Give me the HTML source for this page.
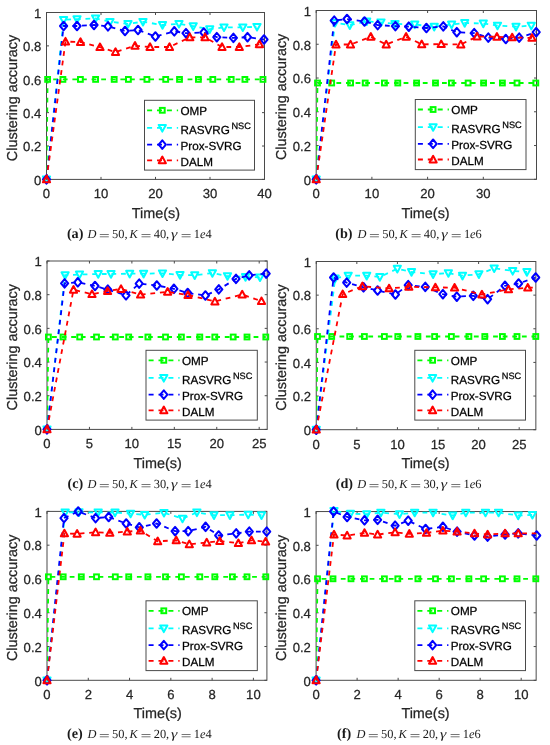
<!DOCTYPE html>
<html><head><meta charset="utf-8"><style>
html,body{margin:0;padding:0;background:#fff;overflow:hidden;width:550px;height:745px;}
svg{display:block;will-change:transform;}
text{text-rendering:geometricPrecision;}
.tk{font-family:"Liberation Sans",sans-serif;font-size:13.1px;fill:#262626;stroke:#262626;stroke-width:0.25px;}
.lb{font-family:"Liberation Sans",sans-serif;font-size:14.4px;fill:#262626;stroke:#262626;stroke-width:0.25px;}
.lg{font-family:"Liberation Sans",sans-serif;font-size:11.7px;fill:#000;stroke:#000;stroke-width:0.25px;}
.cp{font-family:"Liberation Serif",serif;font-size:12.4px;fill:#1a1a1a;}
</style></head><body>
<svg width="550" height="745" viewBox="0 0 550 745">
<defs><clipPath id="ca"><rect x="46.5" y="11.5" width="218" height="167.9"/></clipPath><clipPath id="cb"><rect x="316.2" y="9.5" width="220.3" height="169.8"/></clipPath><clipPath id="cc"><rect x="47" y="260" width="220.2" height="169.4"/></clipPath><clipPath id="cd"><rect x="316.25" y="260.5" width="219.6" height="169.2"/></clipPath><clipPath id="ce"><rect x="47" y="510.4" width="219.9" height="169.9"/></clipPath><clipPath id="cf"><rect x="316.1" y="510.55" width="220.05" height="169.75"/></clipPath></defs>
<g><rect x="46.5" y="12.5" width="218" height="166.9" fill="none" stroke="#4a4a4a" stroke-width="1"/>
<path d="M46.5,179.4h2.5M264.5,179.4h-2.5" stroke="#4a4a4a" stroke-width="1"/>
<text x="41.3" y="184.7" text-anchor="end" class="tk">0</text>
<path d="M46.5,146.02h2.5M264.5,146.02h-2.5" stroke="#4a4a4a" stroke-width="1"/>
<text x="41.3" y="151.32" text-anchor="end" class="tk">0.2</text>
<path d="M46.5,112.64h2.5M264.5,112.64h-2.5" stroke="#4a4a4a" stroke-width="1"/>
<text x="41.3" y="117.94" text-anchor="end" class="tk">0.4</text>
<path d="M46.5,79.26h2.5M264.5,79.26h-2.5" stroke="#4a4a4a" stroke-width="1"/>
<text x="41.3" y="84.56" text-anchor="end" class="tk">0.6</text>
<path d="M46.5,45.88h2.5M264.5,45.88h-2.5" stroke="#4a4a4a" stroke-width="1"/>
<text x="41.3" y="51.18" text-anchor="end" class="tk">0.8</text>
<path d="M46.5,12.5h2.5M264.5,12.5h-2.5" stroke="#4a4a4a" stroke-width="1"/>
<text x="41.3" y="17.8" text-anchor="end" class="tk">1</text>
<path d="M46.5,179.4v-2.5M46.5,12.5v2.5" stroke="#4a4a4a" stroke-width="1"/>
<text x="46.5" y="198.4" text-anchor="middle" class="tk">0</text>
<path d="M101,179.4v-2.5M101,12.5v2.5" stroke="#4a4a4a" stroke-width="1"/>
<text x="101" y="198.4" text-anchor="middle" class="tk">10</text>
<path d="M155.5,179.4v-2.5M155.5,12.5v2.5" stroke="#4a4a4a" stroke-width="1"/>
<text x="155.5" y="198.4" text-anchor="middle" class="tk">20</text>
<path d="M210,179.4v-2.5M210,12.5v2.5" stroke="#4a4a4a" stroke-width="1"/>
<text x="210" y="198.4" text-anchor="middle" class="tk">30</text>
<path d="M264.5,179.4v-2.5M264.5,12.5v2.5" stroke="#4a4a4a" stroke-width="1"/>
<text x="264.5" y="198.4" text-anchor="middle" class="tk">40</text>
<text transform="translate(16.8,97.95) rotate(-90)" x="0" y="0" text-anchor="middle" class="lb" >Clustering accuracy</text>
<text x="131.8" y="217.8" class="lb">Time(s)</text>
<path d="M46.5,179.4 L47.6,79.4 L62.9,79.4 L80.4,79.4 L95.6,79.4 L114.2,79.4 L128.4,79.4 L146.9,79.4 L165.7,79.4 L179.5,79.4 L198.4,79.4 L212.8,79.4 L231.2,79.4 L244.9,79.4 L263,79.4" fill="none" stroke="#00ff00" stroke-width="1.8" stroke-dasharray="4.8,4.8" clip-path="url(#ca)"/>
<rect x="44.1" y="177" width="4.8" height="4.8" fill="none" stroke="#00ff00" stroke-width="2.0"/>
<rect x="45.2" y="77" width="4.8" height="4.8" fill="none" stroke="#00ff00" stroke-width="2.0"/>
<rect x="60.5" y="77" width="4.8" height="4.8" fill="none" stroke="#00ff00" stroke-width="2.0"/>
<rect x="78" y="77" width="4.8" height="4.8" fill="none" stroke="#00ff00" stroke-width="2.0"/>
<rect x="93.2" y="77" width="4.8" height="4.8" fill="none" stroke="#00ff00" stroke-width="2.0"/>
<rect x="111.8" y="77" width="4.8" height="4.8" fill="none" stroke="#00ff00" stroke-width="2.0"/>
<rect x="126" y="77" width="4.8" height="4.8" fill="none" stroke="#00ff00" stroke-width="2.0"/>
<rect x="144.5" y="77" width="4.8" height="4.8" fill="none" stroke="#00ff00" stroke-width="2.0"/>
<rect x="163.3" y="77" width="4.8" height="4.8" fill="none" stroke="#00ff00" stroke-width="2.0"/>
<rect x="177.1" y="77" width="4.8" height="4.8" fill="none" stroke="#00ff00" stroke-width="2.0"/>
<rect x="196" y="77" width="4.8" height="4.8" fill="none" stroke="#00ff00" stroke-width="2.0"/>
<rect x="210.4" y="77" width="4.8" height="4.8" fill="none" stroke="#00ff00" stroke-width="2.0"/>
<rect x="228.8" y="77" width="4.8" height="4.8" fill="none" stroke="#00ff00" stroke-width="2.0"/>
<rect x="242.5" y="77" width="4.8" height="4.8" fill="none" stroke="#00ff00" stroke-width="2.0"/>
<rect x="260.6" y="77" width="4.8" height="4.8" fill="none" stroke="#00ff00" stroke-width="2.0"/>
<path d="M46.5,179.4 L63.6,19.8 L77,19.2 L95.6,18.4 L110,21.8 L128,23.8 L143,21.8 L162.5,25 L179,23.8 L193.2,26.2 L209.7,29.2 L224,27.3 L242.8,27.3 L257,26.8" fill="none" stroke="#00ffff" stroke-width="1.8" stroke-dasharray="4.8,4.8" clip-path="url(#ca)"/>
<path d="M42.9,176.5L50.1,176.5L46.5,183.1Z" fill="none" stroke="#00ffff" stroke-width="2.0" stroke-linejoin="round"/>
<path d="M60,16.9L67.2,16.9L63.6,23.5Z" fill="none" stroke="#00ffff" stroke-width="2.0" stroke-linejoin="round"/>
<path d="M73.4,16.3L80.6,16.3L77,22.9Z" fill="none" stroke="#00ffff" stroke-width="2.0" stroke-linejoin="round"/>
<path d="M92,15.5L99.2,15.5L95.6,22.1Z" fill="none" stroke="#00ffff" stroke-width="2.0" stroke-linejoin="round"/>
<path d="M106.4,18.9L113.6,18.9L110,25.5Z" fill="none" stroke="#00ffff" stroke-width="2.0" stroke-linejoin="round"/>
<path d="M124.4,20.9L131.6,20.9L128,27.5Z" fill="none" stroke="#00ffff" stroke-width="2.0" stroke-linejoin="round"/>
<path d="M139.4,18.9L146.6,18.9L143,25.5Z" fill="none" stroke="#00ffff" stroke-width="2.0" stroke-linejoin="round"/>
<path d="M158.9,22.1L166.1,22.1L162.5,28.7Z" fill="none" stroke="#00ffff" stroke-width="2.0" stroke-linejoin="round"/>
<path d="M175.4,20.9L182.6,20.9L179,27.5Z" fill="none" stroke="#00ffff" stroke-width="2.0" stroke-linejoin="round"/>
<path d="M189.6,23.3L196.8,23.3L193.2,29.9Z" fill="none" stroke="#00ffff" stroke-width="2.0" stroke-linejoin="round"/>
<path d="M206.1,26.3L213.3,26.3L209.7,32.9Z" fill="none" stroke="#00ffff" stroke-width="2.0" stroke-linejoin="round"/>
<path d="M220.4,24.4L227.6,24.4L224,31Z" fill="none" stroke="#00ffff" stroke-width="2.0" stroke-linejoin="round"/>
<path d="M239.2,24.4L246.4,24.4L242.8,31Z" fill="none" stroke="#00ffff" stroke-width="2.0" stroke-linejoin="round"/>
<path d="M253.4,23.9L260.6,23.9L257,30.5Z" fill="none" stroke="#00ffff" stroke-width="2.0" stroke-linejoin="round"/>
<path d="M46.5,179.4 L63.6,26 L77,26 L94,25 L108,26.4 L125,31 L138,30 L155.4,36.5 L174.3,31.3 L186,33.2 L203.8,32.5 L216.8,37.2 L233.4,37.9 L247.5,37.2 L264,39.5" fill="none" stroke="#0000ff" stroke-width="1.8" stroke-dasharray="4.8,4.8" clip-path="url(#ca)"/>
<path d="M42.9,179.4L46.5,175.1L50.1,179.4L46.5,183.7Z" fill="none" stroke="#0000ff" stroke-width="2.0" stroke-linejoin="round"/>
<path d="M60,26L63.6,21.7L67.2,26L63.6,30.3Z" fill="none" stroke="#0000ff" stroke-width="2.0" stroke-linejoin="round"/>
<path d="M73.4,26L77,21.7L80.6,26L77,30.3Z" fill="none" stroke="#0000ff" stroke-width="2.0" stroke-linejoin="round"/>
<path d="M90.4,25L94,20.7L97.6,25L94,29.3Z" fill="none" stroke="#0000ff" stroke-width="2.0" stroke-linejoin="round"/>
<path d="M104.4,26.4L108,22.1L111.6,26.4L108,30.7Z" fill="none" stroke="#0000ff" stroke-width="2.0" stroke-linejoin="round"/>
<path d="M121.4,31L125,26.7L128.6,31L125,35.3Z" fill="none" stroke="#0000ff" stroke-width="2.0" stroke-linejoin="round"/>
<path d="M134.4,30L138,25.7L141.6,30L138,34.3Z" fill="none" stroke="#0000ff" stroke-width="2.0" stroke-linejoin="round"/>
<path d="M151.8,36.5L155.4,32.2L159,36.5L155.4,40.8Z" fill="none" stroke="#0000ff" stroke-width="2.0" stroke-linejoin="round"/>
<path d="M170.7,31.3L174.3,27L177.9,31.3L174.3,35.6Z" fill="none" stroke="#0000ff" stroke-width="2.0" stroke-linejoin="round"/>
<path d="M182.4,33.2L186,28.9L189.6,33.2L186,37.5Z" fill="none" stroke="#0000ff" stroke-width="2.0" stroke-linejoin="round"/>
<path d="M200.2,32.5L203.8,28.2L207.4,32.5L203.8,36.8Z" fill="none" stroke="#0000ff" stroke-width="2.0" stroke-linejoin="round"/>
<path d="M213.2,37.2L216.8,32.9L220.4,37.2L216.8,41.5Z" fill="none" stroke="#0000ff" stroke-width="2.0" stroke-linejoin="round"/>
<path d="M229.8,37.9L233.4,33.6L237,37.9L233.4,42.2Z" fill="none" stroke="#0000ff" stroke-width="2.0" stroke-linejoin="round"/>
<path d="M243.9,37.2L247.5,32.9L251.1,37.2L247.5,41.5Z" fill="none" stroke="#0000ff" stroke-width="2.0" stroke-linejoin="round"/>
<path d="M260.4,39.5L264,35.2L267.6,39.5L264,43.8Z" fill="none" stroke="#0000ff" stroke-width="2.0" stroke-linejoin="round"/>
<path d="M46.5,179.4 L65.5,41.6 L80.5,42 L100,47.2 L115.5,52 L135,45.8 L150,47 L169.5,47 L189.8,37.3 L205,37.3 L222,47 L239.3,47 L259.4,44.3" fill="none" stroke="#ff0000" stroke-width="1.8" stroke-dasharray="4.8,4.8" clip-path="url(#ca)"/>
<path d="M42.9,182.3L50.1,182.3L46.5,175.7Z" fill="none" stroke="#ff0000" stroke-width="2.0" stroke-linejoin="round"/>
<path d="M61.9,44.5L69.1,44.5L65.5,37.9Z" fill="none" stroke="#ff0000" stroke-width="2.0" stroke-linejoin="round"/>
<path d="M76.9,44.9L84.1,44.9L80.5,38.3Z" fill="none" stroke="#ff0000" stroke-width="2.0" stroke-linejoin="round"/>
<path d="M96.4,50.1L103.6,50.1L100,43.5Z" fill="none" stroke="#ff0000" stroke-width="2.0" stroke-linejoin="round"/>
<path d="M111.9,54.9L119.1,54.9L115.5,48.3Z" fill="none" stroke="#ff0000" stroke-width="2.0" stroke-linejoin="round"/>
<path d="M131.4,48.7L138.6,48.7L135,42.1Z" fill="none" stroke="#ff0000" stroke-width="2.0" stroke-linejoin="round"/>
<path d="M146.4,49.9L153.6,49.9L150,43.3Z" fill="none" stroke="#ff0000" stroke-width="2.0" stroke-linejoin="round"/>
<path d="M165.9,49.9L173.1,49.9L169.5,43.3Z" fill="none" stroke="#ff0000" stroke-width="2.0" stroke-linejoin="round"/>
<path d="M186.2,40.2L193.4,40.2L189.8,33.6Z" fill="none" stroke="#ff0000" stroke-width="2.0" stroke-linejoin="round"/>
<path d="M201.4,40.2L208.6,40.2L205,33.6Z" fill="none" stroke="#ff0000" stroke-width="2.0" stroke-linejoin="round"/>
<path d="M218.4,49.9L225.6,49.9L222,43.3Z" fill="none" stroke="#ff0000" stroke-width="2.0" stroke-linejoin="round"/>
<path d="M235.7,49.9L242.9,49.9L239.3,43.3Z" fill="none" stroke="#ff0000" stroke-width="2.0" stroke-linejoin="round"/>
<path d="M255.8,47.2L263,47.2L259.4,40.6Z" fill="none" stroke="#ff0000" stroke-width="2.0" stroke-linejoin="round"/>
<rect x="144.5" y="100.3" width="110" height="69.8" fill="#fff" stroke="#4a4a4a" stroke-width="1"/>
<path d="M147.1,110.3H178.1" stroke="#00ff00" stroke-width="1.8" stroke-dasharray="5,4.9"/>
<rect x="159.9" y="107.9" width="4.8" height="4.8" fill="none" stroke="#00ff00" stroke-width="2.0"/>
<text x="180.5" y="114.5" class="lg">OMP</text>
<path d="M147.1,127.9H178.1" stroke="#00ffff" stroke-width="1.8" stroke-dasharray="5,4.9"/>
<path d="M158.7,125L165.9,125L162.3,131.6Z" fill="none" stroke="#00ffff" stroke-width="2.0" stroke-linejoin="round"/>
<text x="180.5" y="133.6" class="lg">RASVRG<tspan font-size="9.2" dy="-4.9" dx="1.6">NSC</tspan></text>
<path d="M147.1,144.6H178.1" stroke="#0000ff" stroke-width="1.8" stroke-dasharray="5,4.9"/>
<path d="M158.7,144.6L162.3,140.3L165.9,144.6L162.3,148.9Z" fill="none" stroke="#0000ff" stroke-width="2.0" stroke-linejoin="round"/>
<text x="180.5" y="149.9" class="lg">Prox-SVRG</text>
<path d="M147.1,160.3H178.1" stroke="#ff0000" stroke-width="1.8" stroke-dasharray="5,4.9"/>
<path d="M158.7,163.2L165.9,163.2L162.3,156.6Z" fill="none" stroke="#ff0000" stroke-width="2.0" stroke-linejoin="round"/>
<text x="180.5" y="165.8" class="lg">DALM</text>
<text x="66.9" y="238.3" class="cp"><tspan font-weight="bold" font-size="14.2">(a)</tspan></text>
<text x="87.5" y="238.3" class="cp"><tspan font-style="italic">D</tspan></text>
<text x="112.1" y="238.3" class="cp">50,</text>
<text x="129.5" y="238.3" class="cp"><tspan font-style="italic">K</tspan></text>
<text x="153.7" y="238.3" class="cp">40,</text>
<text x="193.8" y="238.3" class="cp">1<tspan font-style="italic">e</tspan>4</text>
<text transform="translate(171.1,238.3) scale(1.3,1)" class="cp"><tspan font-style="italic">γ</tspan></text>
<path d="M99.8,234.5h9.0M99.8,236.8h9.0" stroke="#777" stroke-width="1"/>
<path d="M141.5,234.5h9.0M141.5,236.8h9.0" stroke="#777" stroke-width="1"/>
<path d="M181.6,234.5h9.0M181.6,236.8h9.0" stroke="#777" stroke-width="1"/></g><g><rect x="316.2" y="10.5" width="220.3" height="168.8" fill="none" stroke="#4a4a4a" stroke-width="1"/>
<path d="M316.2,179.3h2.5M536.5,179.3h-2.5" stroke="#4a4a4a" stroke-width="1"/>
<text x="311" y="184.6" text-anchor="end" class="tk">0</text>
<path d="M316.2,145.54h2.5M536.5,145.54h-2.5" stroke="#4a4a4a" stroke-width="1"/>
<text x="311" y="150.84" text-anchor="end" class="tk">0.2</text>
<path d="M316.2,111.78h2.5M536.5,111.78h-2.5" stroke="#4a4a4a" stroke-width="1"/>
<text x="311" y="117.08" text-anchor="end" class="tk">0.4</text>
<path d="M316.2,78.02h2.5M536.5,78.02h-2.5" stroke="#4a4a4a" stroke-width="1"/>
<text x="311" y="83.32" text-anchor="end" class="tk">0.6</text>
<path d="M316.2,44.26h2.5M536.5,44.26h-2.5" stroke="#4a4a4a" stroke-width="1"/>
<text x="311" y="49.56" text-anchor="end" class="tk">0.8</text>
<path d="M316.2,10.5h2.5M536.5,10.5h-2.5" stroke="#4a4a4a" stroke-width="1"/>
<text x="311" y="15.8" text-anchor="end" class="tk">1</text>
<path d="M316.2,179.3v-2.5M316.2,10.5v2.5" stroke="#4a4a4a" stroke-width="1"/>
<text x="316.2" y="198.3" text-anchor="middle" class="tk">0</text>
<path d="M371.9,179.3v-2.5M371.9,10.5v2.5" stroke="#4a4a4a" stroke-width="1"/>
<text x="371.9" y="198.3" text-anchor="middle" class="tk">10</text>
<path d="M427.6,179.3v-2.5M427.6,10.5v2.5" stroke="#4a4a4a" stroke-width="1"/>
<text x="427.6" y="198.3" text-anchor="middle" class="tk">20</text>
<path d="M483.3,179.3v-2.5M483.3,10.5v2.5" stroke="#4a4a4a" stroke-width="1"/>
<text x="483.3" y="198.3" text-anchor="middle" class="tk">30</text>
<text transform="translate(286.3,96.9) rotate(-90)" text-anchor="middle" class="lb">Clustering accuracy</text>
<text x="401.4" y="217.8" class="lb">Time(s)</text>
<path d="M316.2,179.3 L317.5,83 L331.7,83 L350.6,83 L365.2,83 L384.4,83 L397.8,83 L416.6,83 L435.5,83 L451.4,83 L468.1,83 L483.6,83 L502.4,83 L517,83 L535.8,83" fill="none" stroke="#00ff00" stroke-width="1.8" stroke-dasharray="4.8,4.8" clip-path="url(#cb)"/>
<rect x="313.8" y="176.9" width="4.8" height="4.8" fill="none" stroke="#00ff00" stroke-width="2.0"/>
<rect x="315.1" y="80.6" width="4.8" height="4.8" fill="none" stroke="#00ff00" stroke-width="2.0"/>
<rect x="329.3" y="80.6" width="4.8" height="4.8" fill="none" stroke="#00ff00" stroke-width="2.0"/>
<rect x="348.2" y="80.6" width="4.8" height="4.8" fill="none" stroke="#00ff00" stroke-width="2.0"/>
<rect x="362.8" y="80.6" width="4.8" height="4.8" fill="none" stroke="#00ff00" stroke-width="2.0"/>
<rect x="382" y="80.6" width="4.8" height="4.8" fill="none" stroke="#00ff00" stroke-width="2.0"/>
<rect x="395.4" y="80.6" width="4.8" height="4.8" fill="none" stroke="#00ff00" stroke-width="2.0"/>
<rect x="414.2" y="80.6" width="4.8" height="4.8" fill="none" stroke="#00ff00" stroke-width="2.0"/>
<rect x="433.1" y="80.6" width="4.8" height="4.8" fill="none" stroke="#00ff00" stroke-width="2.0"/>
<rect x="449" y="80.6" width="4.8" height="4.8" fill="none" stroke="#00ff00" stroke-width="2.0"/>
<rect x="465.7" y="80.6" width="4.8" height="4.8" fill="none" stroke="#00ff00" stroke-width="2.0"/>
<rect x="481.2" y="80.6" width="4.8" height="4.8" fill="none" stroke="#00ff00" stroke-width="2.0"/>
<rect x="500" y="80.6" width="4.8" height="4.8" fill="none" stroke="#00ff00" stroke-width="2.0"/>
<rect x="514.6" y="80.6" width="4.8" height="4.8" fill="none" stroke="#00ff00" stroke-width="2.0"/>
<rect x="533.4" y="80.6" width="4.8" height="4.8" fill="none" stroke="#00ff00" stroke-width="2.0"/>
<path d="M316.2,179.3 L335,22.8 L349.8,25.2 L366.7,21.3 L381,22.4 L395,23.9 L414.7,24.5 L434.2,26.7 L451.6,24.5 L464.7,23 L483.3,23.5 L497.5,25.6 L516,26.7 L531.3,25.6" fill="none" stroke="#00ffff" stroke-width="1.8" stroke-dasharray="4.8,4.8" clip-path="url(#cb)"/>
<path d="M312.6,176.4L319.8,176.4L316.2,183Z" fill="none" stroke="#00ffff" stroke-width="2.0" stroke-linejoin="round"/>
<path d="M331.4,19.9L338.6,19.9L335,26.5Z" fill="none" stroke="#00ffff" stroke-width="2.0" stroke-linejoin="round"/>
<path d="M346.2,22.3L353.4,22.3L349.8,28.9Z" fill="none" stroke="#00ffff" stroke-width="2.0" stroke-linejoin="round"/>
<path d="M363.1,18.4L370.3,18.4L366.7,25Z" fill="none" stroke="#00ffff" stroke-width="2.0" stroke-linejoin="round"/>
<path d="M377.4,19.5L384.6,19.5L381,26.1Z" fill="none" stroke="#00ffff" stroke-width="2.0" stroke-linejoin="round"/>
<path d="M391.4,21L398.6,21L395,27.6Z" fill="none" stroke="#00ffff" stroke-width="2.0" stroke-linejoin="round"/>
<path d="M411.1,21.6L418.3,21.6L414.7,28.2Z" fill="none" stroke="#00ffff" stroke-width="2.0" stroke-linejoin="round"/>
<path d="M430.6,23.8L437.8,23.8L434.2,30.4Z" fill="none" stroke="#00ffff" stroke-width="2.0" stroke-linejoin="round"/>
<path d="M448,21.6L455.2,21.6L451.6,28.2Z" fill="none" stroke="#00ffff" stroke-width="2.0" stroke-linejoin="round"/>
<path d="M461.1,20.1L468.3,20.1L464.7,26.7Z" fill="none" stroke="#00ffff" stroke-width="2.0" stroke-linejoin="round"/>
<path d="M479.7,20.6L486.9,20.6L483.3,27.2Z" fill="none" stroke="#00ffff" stroke-width="2.0" stroke-linejoin="round"/>
<path d="M493.9,22.7L501.1,22.7L497.5,29.3Z" fill="none" stroke="#00ffff" stroke-width="2.0" stroke-linejoin="round"/>
<path d="M512.4,23.8L519.6,23.8L516,30.4Z" fill="none" stroke="#00ffff" stroke-width="2.0" stroke-linejoin="round"/>
<path d="M527.7,22.7L534.9,22.7L531.3,29.3Z" fill="none" stroke="#00ffff" stroke-width="2.0" stroke-linejoin="round"/>
<path d="M316.2,179.3 L334.2,20.6 L347,19 L364.5,21.5 L377.7,25.1 L395.4,26.1 L408.8,26.7 L426.4,28 L443.3,26.4 L456.8,32.2 L474.2,33.1 L488.3,37.6 L505.8,39 L519.2,37.6 L536.2,32.2" fill="none" stroke="#0000ff" stroke-width="1.8" stroke-dasharray="4.8,4.8" clip-path="url(#cb)"/>
<path d="M312.6,179.3L316.2,175L319.8,179.3L316.2,183.6Z" fill="none" stroke="#0000ff" stroke-width="2.0" stroke-linejoin="round"/>
<path d="M330.6,20.6L334.2,16.3L337.8,20.6L334.2,24.9Z" fill="none" stroke="#0000ff" stroke-width="2.0" stroke-linejoin="round"/>
<path d="M343.4,19L347,14.7L350.6,19L347,23.3Z" fill="none" stroke="#0000ff" stroke-width="2.0" stroke-linejoin="round"/>
<path d="M360.9,21.5L364.5,17.2L368.1,21.5L364.5,25.8Z" fill="none" stroke="#0000ff" stroke-width="2.0" stroke-linejoin="round"/>
<path d="M374.1,25.1L377.7,20.8L381.3,25.1L377.7,29.4Z" fill="none" stroke="#0000ff" stroke-width="2.0" stroke-linejoin="round"/>
<path d="M391.8,26.1L395.4,21.8L399,26.1L395.4,30.4Z" fill="none" stroke="#0000ff" stroke-width="2.0" stroke-linejoin="round"/>
<path d="M405.2,26.7L408.8,22.4L412.4,26.7L408.8,31Z" fill="none" stroke="#0000ff" stroke-width="2.0" stroke-linejoin="round"/>
<path d="M422.8,28L426.4,23.7L430,28L426.4,32.3Z" fill="none" stroke="#0000ff" stroke-width="2.0" stroke-linejoin="round"/>
<path d="M439.7,26.4L443.3,22.1L446.9,26.4L443.3,30.7Z" fill="none" stroke="#0000ff" stroke-width="2.0" stroke-linejoin="round"/>
<path d="M453.2,32.2L456.8,27.9L460.4,32.2L456.8,36.5Z" fill="none" stroke="#0000ff" stroke-width="2.0" stroke-linejoin="round"/>
<path d="M470.6,33.1L474.2,28.8L477.8,33.1L474.2,37.4Z" fill="none" stroke="#0000ff" stroke-width="2.0" stroke-linejoin="round"/>
<path d="M484.7,37.6L488.3,33.3L491.9,37.6L488.3,41.9Z" fill="none" stroke="#0000ff" stroke-width="2.0" stroke-linejoin="round"/>
<path d="M502.2,39L505.8,34.7L509.4,39L505.8,43.3Z" fill="none" stroke="#0000ff" stroke-width="2.0" stroke-linejoin="round"/>
<path d="M515.6,37.6L519.2,33.3L522.8,37.6L519.2,41.9Z" fill="none" stroke="#0000ff" stroke-width="2.0" stroke-linejoin="round"/>
<path d="M532.6,32.2L536.2,27.9L539.8,32.2L536.2,36.5Z" fill="none" stroke="#0000ff" stroke-width="2.0" stroke-linejoin="round"/>
<path d="M316.2,179.3 L336,44.5 L350.5,44.5 L370.8,36.8 L386.2,44.5 L406.1,36.8 L421.7,44.3 L441.2,44.2 L460.8,44.5 L477,36.5 L496.9,36.8 L512.2,37.4 L532,37.9" fill="none" stroke="#ff0000" stroke-width="1.8" stroke-dasharray="4.8,4.8" clip-path="url(#cb)"/>
<path d="M312.6,182.2L319.8,182.2L316.2,175.6Z" fill="none" stroke="#ff0000" stroke-width="2.0" stroke-linejoin="round"/>
<path d="M332.4,47.4L339.6,47.4L336,40.8Z" fill="none" stroke="#ff0000" stroke-width="2.0" stroke-linejoin="round"/>
<path d="M346.9,47.4L354.1,47.4L350.5,40.8Z" fill="none" stroke="#ff0000" stroke-width="2.0" stroke-linejoin="round"/>
<path d="M367.2,39.7L374.4,39.7L370.8,33.1Z" fill="none" stroke="#ff0000" stroke-width="2.0" stroke-linejoin="round"/>
<path d="M382.6,47.4L389.8,47.4L386.2,40.8Z" fill="none" stroke="#ff0000" stroke-width="2.0" stroke-linejoin="round"/>
<path d="M402.5,39.7L409.7,39.7L406.1,33.1Z" fill="none" stroke="#ff0000" stroke-width="2.0" stroke-linejoin="round"/>
<path d="M418.1,47.2L425.3,47.2L421.7,40.6Z" fill="none" stroke="#ff0000" stroke-width="2.0" stroke-linejoin="round"/>
<path d="M437.6,47.1L444.8,47.1L441.2,40.5Z" fill="none" stroke="#ff0000" stroke-width="2.0" stroke-linejoin="round"/>
<path d="M457.2,47.4L464.4,47.4L460.8,40.8Z" fill="none" stroke="#ff0000" stroke-width="2.0" stroke-linejoin="round"/>
<path d="M473.4,39.4L480.6,39.4L477,32.8Z" fill="none" stroke="#ff0000" stroke-width="2.0" stroke-linejoin="round"/>
<path d="M493.3,39.7L500.5,39.7L496.9,33.1Z" fill="none" stroke="#ff0000" stroke-width="2.0" stroke-linejoin="round"/>
<path d="M508.6,40.3L515.8,40.3L512.2,33.7Z" fill="none" stroke="#ff0000" stroke-width="2.0" stroke-linejoin="round"/>
<path d="M528.4,40.8L535.6,40.8L532,34.2Z" fill="none" stroke="#ff0000" stroke-width="2.0" stroke-linejoin="round"/>
<rect x="415.3" y="99.5" width="110.7" height="70.1" fill="#fff" stroke="#4a4a4a" stroke-width="1"/>
<path d="M417.9,109.5H448.9" stroke="#00ff00" stroke-width="1.8" stroke-dasharray="5,4.9"/>
<rect x="430.7" y="107.1" width="4.8" height="4.8" fill="none" stroke="#00ff00" stroke-width="2.0"/>
<text x="451.3" y="113.7" class="lg">OMP</text>
<path d="M417.9,127.1H448.9" stroke="#00ffff" stroke-width="1.8" stroke-dasharray="5,4.9"/>
<path d="M429.5,124.2L436.7,124.2L433.1,130.8Z" fill="none" stroke="#00ffff" stroke-width="2.0" stroke-linejoin="round"/>
<text x="451.3" y="132.8" class="lg">RASVRG<tspan font-size="9.2" dy="-4.9" dx="1.6">NSC</tspan></text>
<path d="M417.9,143.8H448.9" stroke="#0000ff" stroke-width="1.8" stroke-dasharray="5,4.9"/>
<path d="M429.5,143.8L433.1,139.5L436.7,143.8L433.1,148.1Z" fill="none" stroke="#0000ff" stroke-width="2.0" stroke-linejoin="round"/>
<text x="451.3" y="149.1" class="lg">Prox-SVRG</text>
<path d="M417.9,159.5H448.9" stroke="#ff0000" stroke-width="1.8" stroke-dasharray="5,4.9"/>
<path d="M429.5,162.4L436.7,162.4L433.1,155.8Z" fill="none" stroke="#ff0000" stroke-width="2.0" stroke-linejoin="round"/>
<text x="451.3" y="165" class="lg">DALM</text>
<text x="335.2" y="238.3" class="cp"><tspan font-weight="bold" font-size="14.2">(b)</tspan></text>
<text x="357.6" y="238.3" class="cp"><tspan font-style="italic">D</tspan></text>
<text x="382.2" y="238.3" class="cp">50,</text>
<text x="399.6" y="238.3" class="cp"><tspan font-style="italic">K</tspan></text>
<text x="423.8" y="238.3" class="cp">40,</text>
<text x="463.9" y="238.3" class="cp">1<tspan font-style="italic">e</tspan>6</text>
<text transform="translate(441.2,238.3) scale(1.3,1)" class="cp"><tspan font-style="italic">γ</tspan></text>
<path d="M369.9,234.5h9.0M369.9,236.8h9.0" stroke="#777" stroke-width="1"/>
<path d="M411.6,234.5h9.0M411.6,236.8h9.0" stroke="#777" stroke-width="1"/>
<path d="M451.7,234.5h9.0M451.7,236.8h9.0" stroke="#777" stroke-width="1"/></g><g><rect x="47" y="261" width="220.2" height="168.4" fill="none" stroke="#4a4a4a" stroke-width="1"/>
<path d="M47,429.4h2.5M267.2,429.4h-2.5" stroke="#4a4a4a" stroke-width="1"/>
<text x="41.8" y="434.7" text-anchor="end" class="tk">0</text>
<path d="M47,395.72h2.5M267.2,395.72h-2.5" stroke="#4a4a4a" stroke-width="1"/>
<text x="41.8" y="401.02" text-anchor="end" class="tk">0.2</text>
<path d="M47,362.04h2.5M267.2,362.04h-2.5" stroke="#4a4a4a" stroke-width="1"/>
<text x="41.8" y="367.34" text-anchor="end" class="tk">0.4</text>
<path d="M47,328.36h2.5M267.2,328.36h-2.5" stroke="#4a4a4a" stroke-width="1"/>
<text x="41.8" y="333.66" text-anchor="end" class="tk">0.6</text>
<path d="M47,294.68h2.5M267.2,294.68h-2.5" stroke="#4a4a4a" stroke-width="1"/>
<text x="41.8" y="299.98" text-anchor="end" class="tk">0.8</text>
<path d="M47,261h2.5M267.2,261h-2.5" stroke="#4a4a4a" stroke-width="1"/>
<text x="41.8" y="266.3" text-anchor="end" class="tk">1</text>
<path d="M47,429.4v-2.5M47,261v2.5" stroke="#4a4a4a" stroke-width="1"/>
<text x="47" y="448.4" text-anchor="middle" class="tk">0</text>
<path d="M89.44,429.4v-2.5M89.44,261v2.5" stroke="#4a4a4a" stroke-width="1"/>
<text x="89.44" y="448.4" text-anchor="middle" class="tk">5</text>
<path d="M131.88,429.4v-2.5M131.88,261v2.5" stroke="#4a4a4a" stroke-width="1"/>
<text x="131.88" y="448.4" text-anchor="middle" class="tk">10</text>
<path d="M174.32,429.4v-2.5M174.32,261v2.5" stroke="#4a4a4a" stroke-width="1"/>
<text x="174.32" y="448.4" text-anchor="middle" class="tk">15</text>
<path d="M216.76,429.4v-2.5M216.76,261v2.5" stroke="#4a4a4a" stroke-width="1"/>
<text x="216.76" y="448.4" text-anchor="middle" class="tk">20</text>
<path d="M259.2,429.4v-2.5M259.2,261v2.5" stroke="#4a4a4a" stroke-width="1"/>
<text x="259.2" y="448.4" text-anchor="middle" class="tk">25</text>
<text transform="translate(16.8,347.2) rotate(-90)" x="0" y="0" text-anchor="middle" class="lb" >Clustering accuracy</text>
<text x="133.5" y="468.3" class="lb">Time(s)</text>
<path d="M47,429.4 L48.4,337 L63,337 L79.7,337 L96.5,337 L115.3,337 L128.7,337 L147.9,337 L165.5,337 L181.4,337 L199.8,337 L214.8,337 L233.2,337 L247,337 L265.8,337" fill="none" stroke="#00ff00" stroke-width="1.8" stroke-dasharray="4.8,4.8" clip-path="url(#cc)"/>
<rect x="44.6" y="427" width="4.8" height="4.8" fill="none" stroke="#00ff00" stroke-width="2.0"/>
<rect x="46" y="334.6" width="4.8" height="4.8" fill="none" stroke="#00ff00" stroke-width="2.0"/>
<rect x="60.6" y="334.6" width="4.8" height="4.8" fill="none" stroke="#00ff00" stroke-width="2.0"/>
<rect x="77.3" y="334.6" width="4.8" height="4.8" fill="none" stroke="#00ff00" stroke-width="2.0"/>
<rect x="94.1" y="334.6" width="4.8" height="4.8" fill="none" stroke="#00ff00" stroke-width="2.0"/>
<rect x="112.9" y="334.6" width="4.8" height="4.8" fill="none" stroke="#00ff00" stroke-width="2.0"/>
<rect x="126.3" y="334.6" width="4.8" height="4.8" fill="none" stroke="#00ff00" stroke-width="2.0"/>
<rect x="145.5" y="334.6" width="4.8" height="4.8" fill="none" stroke="#00ff00" stroke-width="2.0"/>
<rect x="163.1" y="334.6" width="4.8" height="4.8" fill="none" stroke="#00ff00" stroke-width="2.0"/>
<rect x="179" y="334.6" width="4.8" height="4.8" fill="none" stroke="#00ff00" stroke-width="2.0"/>
<rect x="197.4" y="334.6" width="4.8" height="4.8" fill="none" stroke="#00ff00" stroke-width="2.0"/>
<rect x="212.4" y="334.6" width="4.8" height="4.8" fill="none" stroke="#00ff00" stroke-width="2.0"/>
<rect x="230.8" y="334.6" width="4.8" height="4.8" fill="none" stroke="#00ff00" stroke-width="2.0"/>
<rect x="244.6" y="334.6" width="4.8" height="4.8" fill="none" stroke="#00ff00" stroke-width="2.0"/>
<rect x="263.4" y="334.6" width="4.8" height="4.8" fill="none" stroke="#00ff00" stroke-width="2.0"/>
<path d="M47,429.4 L65.1,275.2 L79.5,274.5 L98.2,274 L111,274 L129.7,273.7 L143.6,273.7 L162.5,273.3 L180,275 L194.7,275.2 L212.4,273.1 L227.5,276.1 L245.5,277 L260,277.3" fill="none" stroke="#00ffff" stroke-width="1.8" stroke-dasharray="4.8,4.8" clip-path="url(#cc)"/>
<path d="M43.4,426.5L50.6,426.5L47,433.1Z" fill="none" stroke="#00ffff" stroke-width="2.0" stroke-linejoin="round"/>
<path d="M61.5,272.3L68.7,272.3L65.1,278.9Z" fill="none" stroke="#00ffff" stroke-width="2.0" stroke-linejoin="round"/>
<path d="M75.9,271.6L83.1,271.6L79.5,278.2Z" fill="none" stroke="#00ffff" stroke-width="2.0" stroke-linejoin="round"/>
<path d="M94.6,271.1L101.8,271.1L98.2,277.7Z" fill="none" stroke="#00ffff" stroke-width="2.0" stroke-linejoin="round"/>
<path d="M107.4,271.1L114.6,271.1L111,277.7Z" fill="none" stroke="#00ffff" stroke-width="2.0" stroke-linejoin="round"/>
<path d="M126.1,270.8L133.3,270.8L129.7,277.4Z" fill="none" stroke="#00ffff" stroke-width="2.0" stroke-linejoin="round"/>
<path d="M140,270.8L147.2,270.8L143.6,277.4Z" fill="none" stroke="#00ffff" stroke-width="2.0" stroke-linejoin="round"/>
<path d="M158.9,270.4L166.1,270.4L162.5,277Z" fill="none" stroke="#00ffff" stroke-width="2.0" stroke-linejoin="round"/>
<path d="M176.4,272.1L183.6,272.1L180,278.7Z" fill="none" stroke="#00ffff" stroke-width="2.0" stroke-linejoin="round"/>
<path d="M191.1,272.3L198.3,272.3L194.7,278.9Z" fill="none" stroke="#00ffff" stroke-width="2.0" stroke-linejoin="round"/>
<path d="M208.8,270.2L216,270.2L212.4,276.8Z" fill="none" stroke="#00ffff" stroke-width="2.0" stroke-linejoin="round"/>
<path d="M223.9,273.2L231.1,273.2L227.5,279.8Z" fill="none" stroke="#00ffff" stroke-width="2.0" stroke-linejoin="round"/>
<path d="M241.9,274.1L249.1,274.1L245.5,280.7Z" fill="none" stroke="#00ffff" stroke-width="2.0" stroke-linejoin="round"/>
<path d="M256.4,274.4L263.6,274.4L260,281Z" fill="none" stroke="#00ffff" stroke-width="2.0" stroke-linejoin="round"/>
<path d="M47,429.4 L64.6,283.4 L77.8,282.3 L95,286 L107.8,289.6 L126,295.3 L139.2,283.6 L156.8,285.5 L173.9,288.8 L187.7,293 L205.4,295.5 L218.8,289.4 L236,278.9 L249.2,275.4 L266.2,273.6" fill="none" stroke="#0000ff" stroke-width="1.8" stroke-dasharray="4.8,4.8" clip-path="url(#cc)"/>
<path d="M43.4,429.4L47,425.1L50.6,429.4L47,433.7Z" fill="none" stroke="#0000ff" stroke-width="2.0" stroke-linejoin="round"/>
<path d="M61,283.4L64.6,279.1L68.2,283.4L64.6,287.7Z" fill="none" stroke="#0000ff" stroke-width="2.0" stroke-linejoin="round"/>
<path d="M74.2,282.3L77.8,278L81.4,282.3L77.8,286.6Z" fill="none" stroke="#0000ff" stroke-width="2.0" stroke-linejoin="round"/>
<path d="M91.4,286L95,281.7L98.6,286L95,290.3Z" fill="none" stroke="#0000ff" stroke-width="2.0" stroke-linejoin="round"/>
<path d="M104.2,289.6L107.8,285.3L111.4,289.6L107.8,293.9Z" fill="none" stroke="#0000ff" stroke-width="2.0" stroke-linejoin="round"/>
<path d="M122.4,295.3L126,291L129.6,295.3L126,299.6Z" fill="none" stroke="#0000ff" stroke-width="2.0" stroke-linejoin="round"/>
<path d="M135.6,283.6L139.2,279.3L142.8,283.6L139.2,287.9Z" fill="none" stroke="#0000ff" stroke-width="2.0" stroke-linejoin="round"/>
<path d="M153.2,285.5L156.8,281.2L160.4,285.5L156.8,289.8Z" fill="none" stroke="#0000ff" stroke-width="2.0" stroke-linejoin="round"/>
<path d="M170.3,288.8L173.9,284.5L177.5,288.8L173.9,293.1Z" fill="none" stroke="#0000ff" stroke-width="2.0" stroke-linejoin="round"/>
<path d="M184.1,293L187.7,288.7L191.3,293L187.7,297.3Z" fill="none" stroke="#0000ff" stroke-width="2.0" stroke-linejoin="round"/>
<path d="M201.8,295.5L205.4,291.2L209,295.5L205.4,299.8Z" fill="none" stroke="#0000ff" stroke-width="2.0" stroke-linejoin="round"/>
<path d="M215.2,289.4L218.8,285.1L222.4,289.4L218.8,293.7Z" fill="none" stroke="#0000ff" stroke-width="2.0" stroke-linejoin="round"/>
<path d="M232.4,278.9L236,274.6L239.6,278.9L236,283.2Z" fill="none" stroke="#0000ff" stroke-width="2.0" stroke-linejoin="round"/>
<path d="M245.6,275.4L249.2,271.1L252.8,275.4L249.2,279.7Z" fill="none" stroke="#0000ff" stroke-width="2.0" stroke-linejoin="round"/>
<path d="M262.6,273.6L266.2,269.3L269.8,273.6L266.2,277.9Z" fill="none" stroke="#0000ff" stroke-width="2.0" stroke-linejoin="round"/>
<path d="M47,429.4 L73.5,289.8 L92,294.2 L107.6,291 L121,289 L140.6,294.7 L167.6,291.8 L188,295 L214.9,301.5 L242.2,294.5 L261.5,301.2" fill="none" stroke="#ff0000" stroke-width="1.8" stroke-dasharray="4.8,4.8" clip-path="url(#cc)"/>
<path d="M43.4,432.3L50.6,432.3L47,425.7Z" fill="none" stroke="#ff0000" stroke-width="2.0" stroke-linejoin="round"/>
<path d="M69.9,292.7L77.1,292.7L73.5,286.1Z" fill="none" stroke="#ff0000" stroke-width="2.0" stroke-linejoin="round"/>
<path d="M88.4,297.1L95.6,297.1L92,290.5Z" fill="none" stroke="#ff0000" stroke-width="2.0" stroke-linejoin="round"/>
<path d="M104,293.9L111.2,293.9L107.6,287.3Z" fill="none" stroke="#ff0000" stroke-width="2.0" stroke-linejoin="round"/>
<path d="M117.4,291.9L124.6,291.9L121,285.3Z" fill="none" stroke="#ff0000" stroke-width="2.0" stroke-linejoin="round"/>
<path d="M137,297.6L144.2,297.6L140.6,291Z" fill="none" stroke="#ff0000" stroke-width="2.0" stroke-linejoin="round"/>
<path d="M164,294.7L171.2,294.7L167.6,288.1Z" fill="none" stroke="#ff0000" stroke-width="2.0" stroke-linejoin="round"/>
<path d="M184.4,297.9L191.6,297.9L188,291.3Z" fill="none" stroke="#ff0000" stroke-width="2.0" stroke-linejoin="round"/>
<path d="M211.3,304.4L218.5,304.4L214.9,297.8Z" fill="none" stroke="#ff0000" stroke-width="2.0" stroke-linejoin="round"/>
<path d="M238.6,297.4L245.8,297.4L242.2,290.8Z" fill="none" stroke="#ff0000" stroke-width="2.0" stroke-linejoin="round"/>
<path d="M257.9,304.1L265.1,304.1L261.5,297.5Z" fill="none" stroke="#ff0000" stroke-width="2.0" stroke-linejoin="round"/>
<rect x="146" y="350.3" width="111.3" height="69.8" fill="#fff" stroke="#4a4a4a" stroke-width="1"/>
<path d="M148.6,360.3H179.6" stroke="#00ff00" stroke-width="1.8" stroke-dasharray="5,4.9"/>
<rect x="161.4" y="357.9" width="4.8" height="4.8" fill="none" stroke="#00ff00" stroke-width="2.0"/>
<text x="182" y="364.5" class="lg">OMP</text>
<path d="M148.6,377.9H179.6" stroke="#00ffff" stroke-width="1.8" stroke-dasharray="5,4.9"/>
<path d="M160.2,375L167.4,375L163.8,381.6Z" fill="none" stroke="#00ffff" stroke-width="2.0" stroke-linejoin="round"/>
<text x="182" y="383.6" class="lg">RASVRG<tspan font-size="9.2" dy="-4.9" dx="1.6">NSC</tspan></text>
<path d="M148.6,394.6H179.6" stroke="#0000ff" stroke-width="1.8" stroke-dasharray="5,4.9"/>
<path d="M160.2,394.6L163.8,390.3L167.4,394.6L163.8,398.9Z" fill="none" stroke="#0000ff" stroke-width="2.0" stroke-linejoin="round"/>
<text x="182" y="399.9" class="lg">Prox-SVRG</text>
<path d="M148.6,410.3H179.6" stroke="#ff0000" stroke-width="1.8" stroke-dasharray="5,4.9"/>
<path d="M160.2,413.2L167.4,413.2L163.8,406.6Z" fill="none" stroke="#ff0000" stroke-width="2.0" stroke-linejoin="round"/>
<text x="182" y="415.8" class="lg">DALM</text>
<text x="67.6" y="488.3" class="cp"><tspan font-weight="bold" font-size="14.2">(c)</tspan></text>
<text x="87.5" y="488.3" class="cp"><tspan font-style="italic">D</tspan></text>
<text x="112.1" y="488.3" class="cp">50,</text>
<text x="129.5" y="488.3" class="cp"><tspan font-style="italic">K</tspan></text>
<text x="153.7" y="488.3" class="cp">30,</text>
<text x="193.8" y="488.3" class="cp">1<tspan font-style="italic">e</tspan>4</text>
<text transform="translate(171.1,488.3) scale(1.3,1)" class="cp"><tspan font-style="italic">γ</tspan></text>
<path d="M99.8,484.5h9.0M99.8,486.8h9.0" stroke="#777" stroke-width="1"/>
<path d="M141.5,484.5h9.0M141.5,486.8h9.0" stroke="#777" stroke-width="1"/>
<path d="M181.6,484.5h9.0M181.6,486.8h9.0" stroke="#777" stroke-width="1"/></g><g><rect x="316.25" y="261.5" width="219.6" height="168.2" fill="none" stroke="#4a4a4a" stroke-width="1"/>
<path d="M316.25,429.7h2.5M535.85,429.7h-2.5" stroke="#4a4a4a" stroke-width="1"/>
<text x="311.05" y="435" text-anchor="end" class="tk">0</text>
<path d="M316.25,396.06h2.5M535.85,396.06h-2.5" stroke="#4a4a4a" stroke-width="1"/>
<text x="311.05" y="401.36" text-anchor="end" class="tk">0.2</text>
<path d="M316.25,362.42h2.5M535.85,362.42h-2.5" stroke="#4a4a4a" stroke-width="1"/>
<text x="311.05" y="367.72" text-anchor="end" class="tk">0.4</text>
<path d="M316.25,328.78h2.5M535.85,328.78h-2.5" stroke="#4a4a4a" stroke-width="1"/>
<text x="311.05" y="334.08" text-anchor="end" class="tk">0.6</text>
<path d="M316.25,295.14h2.5M535.85,295.14h-2.5" stroke="#4a4a4a" stroke-width="1"/>
<text x="311.05" y="300.44" text-anchor="end" class="tk">0.8</text>
<path d="M316.25,261.5h2.5M535.85,261.5h-2.5" stroke="#4a4a4a" stroke-width="1"/>
<text x="311.05" y="266.8" text-anchor="end" class="tk">1</text>
<path d="M316.25,429.7v-2.5M316.25,261.5v2.5" stroke="#4a4a4a" stroke-width="1"/>
<text x="316.25" y="448.7" text-anchor="middle" class="tk">0</text>
<path d="M356.84,429.7v-2.5M356.84,261.5v2.5" stroke="#4a4a4a" stroke-width="1"/>
<text x="356.84" y="448.7" text-anchor="middle" class="tk">5</text>
<path d="M397.43,429.7v-2.5M397.43,261.5v2.5" stroke="#4a4a4a" stroke-width="1"/>
<text x="397.43" y="448.7" text-anchor="middle" class="tk">10</text>
<path d="M438.02,429.7v-2.5M438.02,261.5v2.5" stroke="#4a4a4a" stroke-width="1"/>
<text x="438.02" y="448.7" text-anchor="middle" class="tk">15</text>
<path d="M478.61,429.7v-2.5M478.61,261.5v2.5" stroke="#4a4a4a" stroke-width="1"/>
<text x="478.61" y="448.7" text-anchor="middle" class="tk">20</text>
<path d="M519.2,429.7v-2.5M519.2,261.5v2.5" stroke="#4a4a4a" stroke-width="1"/>
<text x="519.2" y="448.7" text-anchor="middle" class="tk">25</text>
<text transform="translate(286.3,347.6) rotate(-90)" text-anchor="middle" class="lb">Clustering accuracy</text>
<text x="401.4" y="468.3" class="lb">Time(s)</text>
<path d="M316.25,429.7 L317.5,336.5 L331.7,336.5 L349.7,336.5 L364.4,336.5 L384.4,336.5 L397.8,336.5 L417.9,336.5 L434.6,336.5 L451.4,336.5 L468.9,336.5 L484.8,336.5 L502.4,336.5 L517,336.5 L535.8,336.5" fill="none" stroke="#00ff00" stroke-width="1.8" stroke-dasharray="4.8,4.8" clip-path="url(#cd)"/>
<rect x="313.85" y="427.3" width="4.8" height="4.8" fill="none" stroke="#00ff00" stroke-width="2.0"/>
<rect x="315.1" y="334.1" width="4.8" height="4.8" fill="none" stroke="#00ff00" stroke-width="2.0"/>
<rect x="329.3" y="334.1" width="4.8" height="4.8" fill="none" stroke="#00ff00" stroke-width="2.0"/>
<rect x="347.3" y="334.1" width="4.8" height="4.8" fill="none" stroke="#00ff00" stroke-width="2.0"/>
<rect x="362" y="334.1" width="4.8" height="4.8" fill="none" stroke="#00ff00" stroke-width="2.0"/>
<rect x="382" y="334.1" width="4.8" height="4.8" fill="none" stroke="#00ff00" stroke-width="2.0"/>
<rect x="395.4" y="334.1" width="4.8" height="4.8" fill="none" stroke="#00ff00" stroke-width="2.0"/>
<rect x="415.5" y="334.1" width="4.8" height="4.8" fill="none" stroke="#00ff00" stroke-width="2.0"/>
<rect x="432.2" y="334.1" width="4.8" height="4.8" fill="none" stroke="#00ff00" stroke-width="2.0"/>
<rect x="449" y="334.1" width="4.8" height="4.8" fill="none" stroke="#00ff00" stroke-width="2.0"/>
<rect x="466.5" y="334.1" width="4.8" height="4.8" fill="none" stroke="#00ff00" stroke-width="2.0"/>
<rect x="482.4" y="334.1" width="4.8" height="4.8" fill="none" stroke="#00ff00" stroke-width="2.0"/>
<rect x="500" y="334.1" width="4.8" height="4.8" fill="none" stroke="#00ff00" stroke-width="2.0"/>
<rect x="514.6" y="334.1" width="4.8" height="4.8" fill="none" stroke="#00ff00" stroke-width="2.0"/>
<rect x="533.4" y="334.1" width="4.8" height="4.8" fill="none" stroke="#00ff00" stroke-width="2.0"/>
<path d="M316.25,429.7 L335.1,278.5 L348.2,275.7 L366.7,275.7 L379.8,277 L397.3,268.7 L411.5,272 L433.1,274.2 L448.4,273.1 L462.5,275.7 L478.9,274.2 L494.2,268.3 L512.7,270.9 L526.9,272" fill="none" stroke="#00ffff" stroke-width="1.8" stroke-dasharray="4.8,4.8" clip-path="url(#cd)"/>
<path d="M312.65,426.8L319.85,426.8L316.25,433.4Z" fill="none" stroke="#00ffff" stroke-width="2.0" stroke-linejoin="round"/>
<path d="M331.5,275.6L338.7,275.6L335.1,282.2Z" fill="none" stroke="#00ffff" stroke-width="2.0" stroke-linejoin="round"/>
<path d="M344.6,272.8L351.8,272.8L348.2,279.4Z" fill="none" stroke="#00ffff" stroke-width="2.0" stroke-linejoin="round"/>
<path d="M363.1,272.8L370.3,272.8L366.7,279.4Z" fill="none" stroke="#00ffff" stroke-width="2.0" stroke-linejoin="round"/>
<path d="M376.2,274.1L383.4,274.1L379.8,280.7Z" fill="none" stroke="#00ffff" stroke-width="2.0" stroke-linejoin="round"/>
<path d="M393.7,265.8L400.9,265.8L397.3,272.4Z" fill="none" stroke="#00ffff" stroke-width="2.0" stroke-linejoin="round"/>
<path d="M407.9,269.1L415.1,269.1L411.5,275.7Z" fill="none" stroke="#00ffff" stroke-width="2.0" stroke-linejoin="round"/>
<path d="M429.5,271.3L436.7,271.3L433.1,277.9Z" fill="none" stroke="#00ffff" stroke-width="2.0" stroke-linejoin="round"/>
<path d="M444.8,270.2L452,270.2L448.4,276.8Z" fill="none" stroke="#00ffff" stroke-width="2.0" stroke-linejoin="round"/>
<path d="M458.9,272.8L466.1,272.8L462.5,279.4Z" fill="none" stroke="#00ffff" stroke-width="2.0" stroke-linejoin="round"/>
<path d="M475.3,271.3L482.5,271.3L478.9,277.9Z" fill="none" stroke="#00ffff" stroke-width="2.0" stroke-linejoin="round"/>
<path d="M490.6,265.4L497.8,265.4L494.2,272Z" fill="none" stroke="#00ffff" stroke-width="2.0" stroke-linejoin="round"/>
<path d="M509.1,268L516.3,268L512.7,274.6Z" fill="none" stroke="#00ffff" stroke-width="2.0" stroke-linejoin="round"/>
<path d="M523.3,269.1L530.5,269.1L526.9,275.7Z" fill="none" stroke="#00ffff" stroke-width="2.0" stroke-linejoin="round"/>
<path d="M316.25,429.7 L333.6,277.5 L346.7,282.6 L363.5,287.3 L377.6,290.5 L395.4,294.5 L408.2,285.1 L425.3,286.9 L442.9,294.2 L456.8,296.7 L473.3,295.8 L487.6,299.2 L505,285.8 L518.6,283.5 L535.7,277.5" fill="none" stroke="#0000ff" stroke-width="1.8" stroke-dasharray="4.8,4.8" clip-path="url(#cd)"/>
<path d="M312.65,429.7L316.25,425.4L319.85,429.7L316.25,434Z" fill="none" stroke="#0000ff" stroke-width="2.0" stroke-linejoin="round"/>
<path d="M330,277.5L333.6,273.2L337.2,277.5L333.6,281.8Z" fill="none" stroke="#0000ff" stroke-width="2.0" stroke-linejoin="round"/>
<path d="M343.1,282.6L346.7,278.3L350.3,282.6L346.7,286.9Z" fill="none" stroke="#0000ff" stroke-width="2.0" stroke-linejoin="round"/>
<path d="M359.9,287.3L363.5,283L367.1,287.3L363.5,291.6Z" fill="none" stroke="#0000ff" stroke-width="2.0" stroke-linejoin="round"/>
<path d="M374,290.5L377.6,286.2L381.2,290.5L377.6,294.8Z" fill="none" stroke="#0000ff" stroke-width="2.0" stroke-linejoin="round"/>
<path d="M391.8,294.5L395.4,290.2L399,294.5L395.4,298.8Z" fill="none" stroke="#0000ff" stroke-width="2.0" stroke-linejoin="round"/>
<path d="M404.6,285.1L408.2,280.8L411.8,285.1L408.2,289.4Z" fill="none" stroke="#0000ff" stroke-width="2.0" stroke-linejoin="round"/>
<path d="M421.7,286.9L425.3,282.6L428.9,286.9L425.3,291.2Z" fill="none" stroke="#0000ff" stroke-width="2.0" stroke-linejoin="round"/>
<path d="M439.3,294.2L442.9,289.9L446.5,294.2L442.9,298.5Z" fill="none" stroke="#0000ff" stroke-width="2.0" stroke-linejoin="round"/>
<path d="M453.2,296.7L456.8,292.4L460.4,296.7L456.8,301Z" fill="none" stroke="#0000ff" stroke-width="2.0" stroke-linejoin="round"/>
<path d="M469.7,295.8L473.3,291.5L476.9,295.8L473.3,300.1Z" fill="none" stroke="#0000ff" stroke-width="2.0" stroke-linejoin="round"/>
<path d="M484,299.2L487.6,294.9L491.2,299.2L487.6,303.5Z" fill="none" stroke="#0000ff" stroke-width="2.0" stroke-linejoin="round"/>
<path d="M501.4,285.8L505,281.5L508.6,285.8L505,290.1Z" fill="none" stroke="#0000ff" stroke-width="2.0" stroke-linejoin="round"/>
<path d="M515,283.5L518.6,279.2L522.2,283.5L518.6,287.8Z" fill="none" stroke="#0000ff" stroke-width="2.0" stroke-linejoin="round"/>
<path d="M532.1,277.5L535.7,273.2L539.3,277.5L535.7,281.8Z" fill="none" stroke="#0000ff" stroke-width="2.0" stroke-linejoin="round"/>
<path d="M316.25,429.7 L342.7,294.2 L362.4,286.3 L389.1,288.4 L408.8,286.8 L435.4,287.4 L454.6,287.7 L481.9,294.5 L508.5,289.4 L527.8,287.7 L545,287.7" fill="none" stroke="#ff0000" stroke-width="1.8" stroke-dasharray="4.8,4.8" clip-path="url(#cd)"/>
<path d="M312.65,432.6L319.85,432.6L316.25,426Z" fill="none" stroke="#ff0000" stroke-width="2.0" stroke-linejoin="round"/>
<path d="M339.1,297.1L346.3,297.1L342.7,290.5Z" fill="none" stroke="#ff0000" stroke-width="2.0" stroke-linejoin="round"/>
<path d="M358.8,289.2L366,289.2L362.4,282.6Z" fill="none" stroke="#ff0000" stroke-width="2.0" stroke-linejoin="round"/>
<path d="M385.5,291.3L392.7,291.3L389.1,284.7Z" fill="none" stroke="#ff0000" stroke-width="2.0" stroke-linejoin="round"/>
<path d="M405.2,289.7L412.4,289.7L408.8,283.1Z" fill="none" stroke="#ff0000" stroke-width="2.0" stroke-linejoin="round"/>
<path d="M431.8,290.3L439,290.3L435.4,283.7Z" fill="none" stroke="#ff0000" stroke-width="2.0" stroke-linejoin="round"/>
<path d="M451,290.6L458.2,290.6L454.6,284Z" fill="none" stroke="#ff0000" stroke-width="2.0" stroke-linejoin="round"/>
<path d="M478.3,297.4L485.5,297.4L481.9,290.8Z" fill="none" stroke="#ff0000" stroke-width="2.0" stroke-linejoin="round"/>
<path d="M504.9,292.3L512.1,292.3L508.5,285.7Z" fill="none" stroke="#ff0000" stroke-width="2.0" stroke-linejoin="round"/>
<path d="M524.2,290.6L531.4,290.6L527.8,284Z" fill="none" stroke="#ff0000" stroke-width="2.0" stroke-linejoin="round"/>
<rect x="414.8" y="350.3" width="110.7" height="69.8" fill="#fff" stroke="#4a4a4a" stroke-width="1"/>
<path d="M417.4,360.3H448.4" stroke="#00ff00" stroke-width="1.8" stroke-dasharray="5,4.9"/>
<rect x="430.2" y="357.9" width="4.8" height="4.8" fill="none" stroke="#00ff00" stroke-width="2.0"/>
<text x="450.8" y="364.5" class="lg">OMP</text>
<path d="M417.4,377.9H448.4" stroke="#00ffff" stroke-width="1.8" stroke-dasharray="5,4.9"/>
<path d="M429,375L436.2,375L432.6,381.6Z" fill="none" stroke="#00ffff" stroke-width="2.0" stroke-linejoin="round"/>
<text x="450.8" y="383.6" class="lg">RASVRG<tspan font-size="9.2" dy="-4.9" dx="1.6">NSC</tspan></text>
<path d="M417.4,394.6H448.4" stroke="#0000ff" stroke-width="1.8" stroke-dasharray="5,4.9"/>
<path d="M429,394.6L432.6,390.3L436.2,394.6L432.6,398.9Z" fill="none" stroke="#0000ff" stroke-width="2.0" stroke-linejoin="round"/>
<text x="450.8" y="399.9" class="lg">Prox-SVRG</text>
<path d="M417.4,410.3H448.4" stroke="#ff0000" stroke-width="1.8" stroke-dasharray="5,4.9"/>
<path d="M429,413.2L436.2,413.2L432.6,406.6Z" fill="none" stroke="#ff0000" stroke-width="2.0" stroke-linejoin="round"/>
<text x="450.8" y="415.8" class="lg">DALM</text>
<text x="335.7" y="488.3" class="cp"><tspan font-weight="bold" font-size="14.2">(d)</tspan></text>
<text x="357.2" y="488.3" class="cp"><tspan font-style="italic">D</tspan></text>
<text x="381.8" y="488.3" class="cp">50,</text>
<text x="399.2" y="488.3" class="cp"><tspan font-style="italic">K</tspan></text>
<text x="423.4" y="488.3" class="cp">30,</text>
<text x="463.5" y="488.3" class="cp">1<tspan font-style="italic">e</tspan>6</text>
<text transform="translate(440.8,488.3) scale(1.3,1)" class="cp"><tspan font-style="italic">γ</tspan></text>
<path d="M369.5,484.5h9.0M369.5,486.8h9.0" stroke="#777" stroke-width="1"/>
<path d="M411.2,484.5h9.0M411.2,486.8h9.0" stroke="#777" stroke-width="1"/>
<path d="M451.3,484.5h9.0M451.3,486.8h9.0" stroke="#777" stroke-width="1"/></g><g><rect x="47" y="511.4" width="219.9" height="168.9" fill="none" stroke="#4a4a4a" stroke-width="1"/>
<path d="M47,680.3h2.5M266.9,680.3h-2.5" stroke="#4a4a4a" stroke-width="1"/>
<text x="41.8" y="685.6" text-anchor="end" class="tk">0</text>
<path d="M47,646.52h2.5M266.9,646.52h-2.5" stroke="#4a4a4a" stroke-width="1"/>
<text x="41.8" y="651.82" text-anchor="end" class="tk">0.2</text>
<path d="M47,612.74h2.5M266.9,612.74h-2.5" stroke="#4a4a4a" stroke-width="1"/>
<text x="41.8" y="618.04" text-anchor="end" class="tk">0.4</text>
<path d="M47,578.96h2.5M266.9,578.96h-2.5" stroke="#4a4a4a" stroke-width="1"/>
<text x="41.8" y="584.26" text-anchor="end" class="tk">0.6</text>
<path d="M47,545.18h2.5M266.9,545.18h-2.5" stroke="#4a4a4a" stroke-width="1"/>
<text x="41.8" y="550.48" text-anchor="end" class="tk">0.8</text>
<path d="M47,511.4h2.5M266.9,511.4h-2.5" stroke="#4a4a4a" stroke-width="1"/>
<text x="41.8" y="516.7" text-anchor="end" class="tk">1</text>
<path d="M47,680.3v-2.5M47,511.4v2.5" stroke="#4a4a4a" stroke-width="1"/>
<text x="47" y="699.3" text-anchor="middle" class="tk">0</text>
<path d="M88.28,680.3v-2.5M88.28,511.4v2.5" stroke="#4a4a4a" stroke-width="1"/>
<text x="88.28" y="699.3" text-anchor="middle" class="tk">2</text>
<path d="M129.56,680.3v-2.5M129.56,511.4v2.5" stroke="#4a4a4a" stroke-width="1"/>
<text x="129.56" y="699.3" text-anchor="middle" class="tk">4</text>
<path d="M170.84,680.3v-2.5M170.84,511.4v2.5" stroke="#4a4a4a" stroke-width="1"/>
<text x="170.84" y="699.3" text-anchor="middle" class="tk">6</text>
<path d="M212.12,680.3v-2.5M212.12,511.4v2.5" stroke="#4a4a4a" stroke-width="1"/>
<text x="212.12" y="699.3" text-anchor="middle" class="tk">8</text>
<path d="M253.4,680.3v-2.5M253.4,511.4v2.5" stroke="#4a4a4a" stroke-width="1"/>
<text x="253.4" y="699.3" text-anchor="middle" class="tk">10</text>
<text transform="translate(16.8,597.85) rotate(-90)" x="0" y="0" text-anchor="middle" class="lb" >Clustering accuracy</text>
<text x="133.5" y="717.8" class="lb">Time(s)</text>
<path d="M47,680.3 L48.4,576.8 L63.2,576.8 L81.3,576.8 L96.5,576.8 L115.3,576.8 L128.7,576.8 L147.9,576.8 L165.5,576.8 L181.4,576.8 L199.8,576.8 L214.8,576.8 L232.4,576.8 L247,576.8 L265.8,576.8" fill="none" stroke="#00ff00" stroke-width="1.8" stroke-dasharray="4.8,4.8" clip-path="url(#ce)"/>
<rect x="44.6" y="677.9" width="4.8" height="4.8" fill="none" stroke="#00ff00" stroke-width="2.0"/>
<rect x="46" y="574.4" width="4.8" height="4.8" fill="none" stroke="#00ff00" stroke-width="2.0"/>
<rect x="60.8" y="574.4" width="4.8" height="4.8" fill="none" stroke="#00ff00" stroke-width="2.0"/>
<rect x="78.9" y="574.4" width="4.8" height="4.8" fill="none" stroke="#00ff00" stroke-width="2.0"/>
<rect x="94.1" y="574.4" width="4.8" height="4.8" fill="none" stroke="#00ff00" stroke-width="2.0"/>
<rect x="112.9" y="574.4" width="4.8" height="4.8" fill="none" stroke="#00ff00" stroke-width="2.0"/>
<rect x="126.3" y="574.4" width="4.8" height="4.8" fill="none" stroke="#00ff00" stroke-width="2.0"/>
<rect x="145.5" y="574.4" width="4.8" height="4.8" fill="none" stroke="#00ff00" stroke-width="2.0"/>
<rect x="163.1" y="574.4" width="4.8" height="4.8" fill="none" stroke="#00ff00" stroke-width="2.0"/>
<rect x="179" y="574.4" width="4.8" height="4.8" fill="none" stroke="#00ff00" stroke-width="2.0"/>
<rect x="197.4" y="574.4" width="4.8" height="4.8" fill="none" stroke="#00ff00" stroke-width="2.0"/>
<rect x="212.4" y="574.4" width="4.8" height="4.8" fill="none" stroke="#00ff00" stroke-width="2.0"/>
<rect x="230" y="574.4" width="4.8" height="4.8" fill="none" stroke="#00ff00" stroke-width="2.0"/>
<rect x="244.6" y="574.4" width="4.8" height="4.8" fill="none" stroke="#00ff00" stroke-width="2.0"/>
<rect x="263.4" y="574.4" width="4.8" height="4.8" fill="none" stroke="#00ff00" stroke-width="2.0"/>
<path d="M47,680.3 L65.2,512.4 L79,512.2 L98.2,512.4 L115,512.5 L130.6,513.6 L144.7,514.8 L164,512.8 L182.5,518.6 L196.9,512.4 L214,515.2 L229.9,515.2 L248.2,514.6 L261.5,515.2" fill="none" stroke="#00ffff" stroke-width="1.8" stroke-dasharray="4.8,4.8" clip-path="url(#ce)"/>
<path d="M43.4,677.4L50.6,677.4L47,684Z" fill="none" stroke="#00ffff" stroke-width="2.0" stroke-linejoin="round"/>
<path d="M61.6,509.5L68.8,509.5L65.2,516.1Z" fill="none" stroke="#00ffff" stroke-width="2.0" stroke-linejoin="round"/>
<path d="M75.4,509.3L82.6,509.3L79,515.9Z" fill="none" stroke="#00ffff" stroke-width="2.0" stroke-linejoin="round"/>
<path d="M94.6,509.5L101.8,509.5L98.2,516.1Z" fill="none" stroke="#00ffff" stroke-width="2.0" stroke-linejoin="round"/>
<path d="M111.4,509.6L118.6,509.6L115,516.2Z" fill="none" stroke="#00ffff" stroke-width="2.0" stroke-linejoin="round"/>
<path d="M127,510.7L134.2,510.7L130.6,517.3Z" fill="none" stroke="#00ffff" stroke-width="2.0" stroke-linejoin="round"/>
<path d="M141.1,511.9L148.3,511.9L144.7,518.5Z" fill="none" stroke="#00ffff" stroke-width="2.0" stroke-linejoin="round"/>
<path d="M160.4,509.9L167.6,509.9L164,516.5Z" fill="none" stroke="#00ffff" stroke-width="2.0" stroke-linejoin="round"/>
<path d="M178.9,515.7L186.1,515.7L182.5,522.3Z" fill="none" stroke="#00ffff" stroke-width="2.0" stroke-linejoin="round"/>
<path d="M193.3,509.5L200.5,509.5L196.9,516.1Z" fill="none" stroke="#00ffff" stroke-width="2.0" stroke-linejoin="round"/>
<path d="M210.4,512.3L217.6,512.3L214,518.9Z" fill="none" stroke="#00ffff" stroke-width="2.0" stroke-linejoin="round"/>
<path d="M226.3,512.3L233.5,512.3L229.9,518.9Z" fill="none" stroke="#00ffff" stroke-width="2.0" stroke-linejoin="round"/>
<path d="M244.6,511.7L251.8,511.7L248.2,518.3Z" fill="none" stroke="#00ffff" stroke-width="2.0" stroke-linejoin="round"/>
<path d="M257.9,512.3L265.1,512.3L261.5,518.9Z" fill="none" stroke="#00ffff" stroke-width="2.0" stroke-linejoin="round"/>
<path d="M47,680.3 L64,518.1 L78.2,511.5 L95.6,518.1 L108.7,517 L126.2,523.5 L139.3,527.3 L156.6,523.5 L175.1,531.2 L188.2,531.2 L205.6,526.8 L218.7,535.5 L236.2,533.4 L249.3,531.6 L266.7,531.6" fill="none" stroke="#0000ff" stroke-width="1.8" stroke-dasharray="4.8,4.8" clip-path="url(#ce)"/>
<path d="M43.4,680.3L47,676L50.6,680.3L47,684.6Z" fill="none" stroke="#0000ff" stroke-width="2.0" stroke-linejoin="round"/>
<path d="M60.4,518.1L64,513.8L67.6,518.1L64,522.4Z" fill="none" stroke="#0000ff" stroke-width="2.0" stroke-linejoin="round"/>
<path d="M74.6,511.5L78.2,507.2L81.8,511.5L78.2,515.8Z" fill="none" stroke="#0000ff" stroke-width="2.0" stroke-linejoin="round"/>
<path d="M92,518.1L95.6,513.8L99.2,518.1L95.6,522.4Z" fill="none" stroke="#0000ff" stroke-width="2.0" stroke-linejoin="round"/>
<path d="M105.1,517L108.7,512.7L112.3,517L108.7,521.3Z" fill="none" stroke="#0000ff" stroke-width="2.0" stroke-linejoin="round"/>
<path d="M122.6,523.5L126.2,519.2L129.8,523.5L126.2,527.8Z" fill="none" stroke="#0000ff" stroke-width="2.0" stroke-linejoin="round"/>
<path d="M135.7,527.3L139.3,523L142.9,527.3L139.3,531.6Z" fill="none" stroke="#0000ff" stroke-width="2.0" stroke-linejoin="round"/>
<path d="M153,523.5L156.6,519.2L160.2,523.5L156.6,527.8Z" fill="none" stroke="#0000ff" stroke-width="2.0" stroke-linejoin="round"/>
<path d="M171.5,531.2L175.1,526.9L178.7,531.2L175.1,535.5Z" fill="none" stroke="#0000ff" stroke-width="2.0" stroke-linejoin="round"/>
<path d="M184.6,531.2L188.2,526.9L191.8,531.2L188.2,535.5Z" fill="none" stroke="#0000ff" stroke-width="2.0" stroke-linejoin="round"/>
<path d="M202,526.8L205.6,522.5L209.2,526.8L205.6,531.1Z" fill="none" stroke="#0000ff" stroke-width="2.0" stroke-linejoin="round"/>
<path d="M215.1,535.5L218.7,531.2L222.3,535.5L218.7,539.8Z" fill="none" stroke="#0000ff" stroke-width="2.0" stroke-linejoin="round"/>
<path d="M232.6,533.4L236.2,529.1L239.8,533.4L236.2,537.7Z" fill="none" stroke="#0000ff" stroke-width="2.0" stroke-linejoin="round"/>
<path d="M245.7,531.6L249.3,527.3L252.9,531.6L249.3,535.9Z" fill="none" stroke="#0000ff" stroke-width="2.0" stroke-linejoin="round"/>
<path d="M263.1,531.6L266.7,527.3L270.3,531.6L266.7,535.9Z" fill="none" stroke="#0000ff" stroke-width="2.0" stroke-linejoin="round"/>
<path d="M47,680.3 L64.4,533.4 L77.1,533.8 L95.6,532.3 L109.8,532.9 L127.3,531.6 L140.4,530.7 L157.7,541.3 L176.2,540.3 L189.3,544.3 L206.7,542.5 L219.8,541 L238.4,543.2 L251.5,540.3 L265.6,541.7" fill="none" stroke="#ff0000" stroke-width="1.8" stroke-dasharray="4.8,4.8" clip-path="url(#ce)"/>
<path d="M43.4,683.2L50.6,683.2L47,676.6Z" fill="none" stroke="#ff0000" stroke-width="2.0" stroke-linejoin="round"/>
<path d="M60.8,536.3L68,536.3L64.4,529.7Z" fill="none" stroke="#ff0000" stroke-width="2.0" stroke-linejoin="round"/>
<path d="M73.5,536.7L80.7,536.7L77.1,530.1Z" fill="none" stroke="#ff0000" stroke-width="2.0" stroke-linejoin="round"/>
<path d="M92,535.2L99.2,535.2L95.6,528.6Z" fill="none" stroke="#ff0000" stroke-width="2.0" stroke-linejoin="round"/>
<path d="M106.2,535.8L113.4,535.8L109.8,529.2Z" fill="none" stroke="#ff0000" stroke-width="2.0" stroke-linejoin="round"/>
<path d="M123.7,534.5L130.9,534.5L127.3,527.9Z" fill="none" stroke="#ff0000" stroke-width="2.0" stroke-linejoin="round"/>
<path d="M136.8,533.6L144,533.6L140.4,527Z" fill="none" stroke="#ff0000" stroke-width="2.0" stroke-linejoin="round"/>
<path d="M154.1,544.2L161.3,544.2L157.7,537.6Z" fill="none" stroke="#ff0000" stroke-width="2.0" stroke-linejoin="round"/>
<path d="M172.6,543.2L179.8,543.2L176.2,536.6Z" fill="none" stroke="#ff0000" stroke-width="2.0" stroke-linejoin="round"/>
<path d="M185.7,547.2L192.9,547.2L189.3,540.6Z" fill="none" stroke="#ff0000" stroke-width="2.0" stroke-linejoin="round"/>
<path d="M203.1,545.4L210.3,545.4L206.7,538.8Z" fill="none" stroke="#ff0000" stroke-width="2.0" stroke-linejoin="round"/>
<path d="M216.2,543.9L223.4,543.9L219.8,537.3Z" fill="none" stroke="#ff0000" stroke-width="2.0" stroke-linejoin="round"/>
<path d="M234.8,546.1L242,546.1L238.4,539.5Z" fill="none" stroke="#ff0000" stroke-width="2.0" stroke-linejoin="round"/>
<path d="M247.9,543.2L255.1,543.2L251.5,536.6Z" fill="none" stroke="#ff0000" stroke-width="2.0" stroke-linejoin="round"/>
<path d="M262,544.6L269.2,544.6L265.6,538Z" fill="none" stroke="#ff0000" stroke-width="2.0" stroke-linejoin="round"/>
<rect x="146" y="600.8" width="111.3" height="69.8" fill="#fff" stroke="#4a4a4a" stroke-width="1"/>
<path d="M148.6,610.8H179.6" stroke="#00ff00" stroke-width="1.8" stroke-dasharray="5,4.9"/>
<rect x="161.4" y="608.4" width="4.8" height="4.8" fill="none" stroke="#00ff00" stroke-width="2.0"/>
<text x="182" y="615" class="lg">OMP</text>
<path d="M148.6,628.4H179.6" stroke="#00ffff" stroke-width="1.8" stroke-dasharray="5,4.9"/>
<path d="M160.2,625.5L167.4,625.5L163.8,632.1Z" fill="none" stroke="#00ffff" stroke-width="2.0" stroke-linejoin="round"/>
<text x="182" y="634.1" class="lg">RASVRG<tspan font-size="9.2" dy="-4.9" dx="1.6">NSC</tspan></text>
<path d="M148.6,645.1H179.6" stroke="#0000ff" stroke-width="1.8" stroke-dasharray="5,4.9"/>
<path d="M160.2,645.1L163.8,640.8L167.4,645.1L163.8,649.4Z" fill="none" stroke="#0000ff" stroke-width="2.0" stroke-linejoin="round"/>
<text x="182" y="650.4" class="lg">Prox-SVRG</text>
<path d="M148.6,660.8H179.6" stroke="#ff0000" stroke-width="1.8" stroke-dasharray="5,4.9"/>
<path d="M160.2,663.7L167.4,663.7L163.8,657.1Z" fill="none" stroke="#ff0000" stroke-width="2.0" stroke-linejoin="round"/>
<text x="182" y="666.3" class="lg">DALM</text>
<text x="67.1" y="738.3" class="cp"><tspan font-weight="bold" font-size="14.2">(e)</tspan></text>
<text x="87.5" y="738.3" class="cp"><tspan font-style="italic">D</tspan></text>
<text x="112.1" y="738.3" class="cp">50,</text>
<text x="129.5" y="738.3" class="cp"><tspan font-style="italic">K</tspan></text>
<text x="153.7" y="738.3" class="cp">20,</text>
<text x="193.8" y="738.3" class="cp">1<tspan font-style="italic">e</tspan>4</text>
<text transform="translate(171.1,738.3) scale(1.3,1)" class="cp"><tspan font-style="italic">γ</tspan></text>
<path d="M99.8,734.5h9.0M99.8,736.8h9.0" stroke="#777" stroke-width="1"/>
<path d="M141.5,734.5h9.0M141.5,736.8h9.0" stroke="#777" stroke-width="1"/>
<path d="M181.6,734.5h9.0M181.6,736.8h9.0" stroke="#777" stroke-width="1"/></g><g><rect x="316.1" y="511.55" width="220.05" height="168.75" fill="none" stroke="#4a4a4a" stroke-width="1"/>
<path d="M316.1,680.3h2.5M536.15,680.3h-2.5" stroke="#4a4a4a" stroke-width="1"/>
<text x="310.9" y="685.6" text-anchor="end" class="tk">0</text>
<path d="M316.1,646.55h2.5M536.15,646.55h-2.5" stroke="#4a4a4a" stroke-width="1"/>
<text x="310.9" y="651.85" text-anchor="end" class="tk">0.2</text>
<path d="M316.1,612.8h2.5M536.15,612.8h-2.5" stroke="#4a4a4a" stroke-width="1"/>
<text x="310.9" y="618.1" text-anchor="end" class="tk">0.4</text>
<path d="M316.1,579.05h2.5M536.15,579.05h-2.5" stroke="#4a4a4a" stroke-width="1"/>
<text x="310.9" y="584.35" text-anchor="end" class="tk">0.6</text>
<path d="M316.1,545.3h2.5M536.15,545.3h-2.5" stroke="#4a4a4a" stroke-width="1"/>
<text x="310.9" y="550.6" text-anchor="end" class="tk">0.8</text>
<path d="M316.1,511.55h2.5M536.15,511.55h-2.5" stroke="#4a4a4a" stroke-width="1"/>
<text x="310.9" y="516.85" text-anchor="end" class="tk">1</text>
<path d="M316.1,680.3v-2.5M316.1,511.55v2.5" stroke="#4a4a4a" stroke-width="1"/>
<text x="316.1" y="699.3" text-anchor="middle" class="tk">0</text>
<path d="M357.12,680.3v-2.5M357.12,511.55v2.5" stroke="#4a4a4a" stroke-width="1"/>
<text x="357.12" y="699.3" text-anchor="middle" class="tk">2</text>
<path d="M398.14,680.3v-2.5M398.14,511.55v2.5" stroke="#4a4a4a" stroke-width="1"/>
<text x="398.14" y="699.3" text-anchor="middle" class="tk">4</text>
<path d="M439.16,680.3v-2.5M439.16,511.55v2.5" stroke="#4a4a4a" stroke-width="1"/>
<text x="439.16" y="699.3" text-anchor="middle" class="tk">6</text>
<path d="M480.18,680.3v-2.5M480.18,511.55v2.5" stroke="#4a4a4a" stroke-width="1"/>
<text x="480.18" y="699.3" text-anchor="middle" class="tk">8</text>
<path d="M521.2,680.3v-2.5M521.2,511.55v2.5" stroke="#4a4a4a" stroke-width="1"/>
<text x="521.2" y="699.3" text-anchor="middle" class="tk">10</text>
<text transform="translate(286.3,597.92) rotate(-90)" text-anchor="middle" class="lb">Clustering accuracy</text>
<text x="401.4" y="717.8" class="lb">Time(s)</text>
<path d="M316.1,680.3 L317.5,578.8 L333,578.8 L351,578.8 L364.4,578.8 L384.4,578.8 L397.8,578.8 L417.9,578.8 L435.5,578.8 L451.4,578.8 L468.9,578.8 L483.6,578.8 L502.4,578.8 L517,578.8 L535.8,578.8" fill="none" stroke="#00ff00" stroke-width="1.8" stroke-dasharray="4.8,4.8" clip-path="url(#cf)"/>
<rect x="313.7" y="677.9" width="4.8" height="4.8" fill="none" stroke="#00ff00" stroke-width="2.0"/>
<rect x="315.1" y="576.4" width="4.8" height="4.8" fill="none" stroke="#00ff00" stroke-width="2.0"/>
<rect x="330.6" y="576.4" width="4.8" height="4.8" fill="none" stroke="#00ff00" stroke-width="2.0"/>
<rect x="348.6" y="576.4" width="4.8" height="4.8" fill="none" stroke="#00ff00" stroke-width="2.0"/>
<rect x="362" y="576.4" width="4.8" height="4.8" fill="none" stroke="#00ff00" stroke-width="2.0"/>
<rect x="382" y="576.4" width="4.8" height="4.8" fill="none" stroke="#00ff00" stroke-width="2.0"/>
<rect x="395.4" y="576.4" width="4.8" height="4.8" fill="none" stroke="#00ff00" stroke-width="2.0"/>
<rect x="415.5" y="576.4" width="4.8" height="4.8" fill="none" stroke="#00ff00" stroke-width="2.0"/>
<rect x="433.1" y="576.4" width="4.8" height="4.8" fill="none" stroke="#00ff00" stroke-width="2.0"/>
<rect x="449" y="576.4" width="4.8" height="4.8" fill="none" stroke="#00ff00" stroke-width="2.0"/>
<rect x="466.5" y="576.4" width="4.8" height="4.8" fill="none" stroke="#00ff00" stroke-width="2.0"/>
<rect x="481.2" y="576.4" width="4.8" height="4.8" fill="none" stroke="#00ff00" stroke-width="2.0"/>
<rect x="500" y="576.4" width="4.8" height="4.8" fill="none" stroke="#00ff00" stroke-width="2.0"/>
<rect x="514.6" y="576.4" width="4.8" height="4.8" fill="none" stroke="#00ff00" stroke-width="2.0"/>
<rect x="533.4" y="576.4" width="4.8" height="4.8" fill="none" stroke="#00ff00" stroke-width="2.0"/>
<path d="M316.1,680.3 L334,511 L350.4,513.7 L366.7,514.2 L380.9,512.6 L399.5,514.2 L414.7,512.6 L433.1,512.6 L452.7,515.5 L465.8,512.6 L485.5,512.6 L498.6,512.6 L518.2,515.5 L532.4,514.8" fill="none" stroke="#00ffff" stroke-width="1.8" stroke-dasharray="4.8,4.8" clip-path="url(#cf)"/>
<path d="M312.5,677.4L319.7,677.4L316.1,684Z" fill="none" stroke="#00ffff" stroke-width="2.0" stroke-linejoin="round"/>
<path d="M330.4,508.1L337.6,508.1L334,514.7Z" fill="none" stroke="#00ffff" stroke-width="2.0" stroke-linejoin="round"/>
<path d="M346.8,510.8L354,510.8L350.4,517.4Z" fill="none" stroke="#00ffff" stroke-width="2.0" stroke-linejoin="round"/>
<path d="M363.1,511.3L370.3,511.3L366.7,517.9Z" fill="none" stroke="#00ffff" stroke-width="2.0" stroke-linejoin="round"/>
<path d="M377.3,509.7L384.5,509.7L380.9,516.3Z" fill="none" stroke="#00ffff" stroke-width="2.0" stroke-linejoin="round"/>
<path d="M395.9,511.3L403.1,511.3L399.5,517.9Z" fill="none" stroke="#00ffff" stroke-width="2.0" stroke-linejoin="round"/>
<path d="M411.1,509.7L418.3,509.7L414.7,516.3Z" fill="none" stroke="#00ffff" stroke-width="2.0" stroke-linejoin="round"/>
<path d="M429.5,509.7L436.7,509.7L433.1,516.3Z" fill="none" stroke="#00ffff" stroke-width="2.0" stroke-linejoin="round"/>
<path d="M449.1,512.6L456.3,512.6L452.7,519.2Z" fill="none" stroke="#00ffff" stroke-width="2.0" stroke-linejoin="round"/>
<path d="M462.2,509.7L469.4,509.7L465.8,516.3Z" fill="none" stroke="#00ffff" stroke-width="2.0" stroke-linejoin="round"/>
<path d="M481.9,509.7L489.1,509.7L485.5,516.3Z" fill="none" stroke="#00ffff" stroke-width="2.0" stroke-linejoin="round"/>
<path d="M495,509.7L502.2,509.7L498.6,516.3Z" fill="none" stroke="#00ffff" stroke-width="2.0" stroke-linejoin="round"/>
<path d="M514.6,512.6L521.8,512.6L518.2,519.2Z" fill="none" stroke="#00ffff" stroke-width="2.0" stroke-linejoin="round"/>
<path d="M528.8,511.9L536,511.9L532.4,518.5Z" fill="none" stroke="#00ffff" stroke-width="2.0" stroke-linejoin="round"/>
<path d="M316.1,680.3 L333.6,511.5 L347.1,517 L364.5,520.3 L377.6,519.8 L395.1,525.7 L408.2,520.7 L425.6,529 L442.9,526.8 L457.1,531.6 L474.5,535.5 L487.6,536.6 L505.1,534.5 L518.2,533.4 L536.7,535.5" fill="none" stroke="#0000ff" stroke-width="1.8" stroke-dasharray="4.8,4.8" clip-path="url(#cf)"/>
<path d="M312.5,680.3L316.1,676L319.7,680.3L316.1,684.6Z" fill="none" stroke="#0000ff" stroke-width="2.0" stroke-linejoin="round"/>
<path d="M330,511.5L333.6,507.2L337.2,511.5L333.6,515.8Z" fill="none" stroke="#0000ff" stroke-width="2.0" stroke-linejoin="round"/>
<path d="M343.5,517L347.1,512.7L350.7,517L347.1,521.3Z" fill="none" stroke="#0000ff" stroke-width="2.0" stroke-linejoin="round"/>
<path d="M360.9,520.3L364.5,516L368.1,520.3L364.5,524.6Z" fill="none" stroke="#0000ff" stroke-width="2.0" stroke-linejoin="round"/>
<path d="M374,519.8L377.6,515.5L381.2,519.8L377.6,524.1Z" fill="none" stroke="#0000ff" stroke-width="2.0" stroke-linejoin="round"/>
<path d="M391.5,525.7L395.1,521.4L398.7,525.7L395.1,530Z" fill="none" stroke="#0000ff" stroke-width="2.0" stroke-linejoin="round"/>
<path d="M404.6,520.7L408.2,516.4L411.8,520.7L408.2,525Z" fill="none" stroke="#0000ff" stroke-width="2.0" stroke-linejoin="round"/>
<path d="M422,529L425.6,524.7L429.2,529L425.6,533.3Z" fill="none" stroke="#0000ff" stroke-width="2.0" stroke-linejoin="round"/>
<path d="M439.3,526.8L442.9,522.5L446.5,526.8L442.9,531.1Z" fill="none" stroke="#0000ff" stroke-width="2.0" stroke-linejoin="round"/>
<path d="M453.5,531.6L457.1,527.3L460.7,531.6L457.1,535.9Z" fill="none" stroke="#0000ff" stroke-width="2.0" stroke-linejoin="round"/>
<path d="M470.9,535.5L474.5,531.2L478.1,535.5L474.5,539.8Z" fill="none" stroke="#0000ff" stroke-width="2.0" stroke-linejoin="round"/>
<path d="M484,536.6L487.6,532.3L491.2,536.6L487.6,540.9Z" fill="none" stroke="#0000ff" stroke-width="2.0" stroke-linejoin="round"/>
<path d="M501.5,534.5L505.1,530.2L508.7,534.5L505.1,538.8Z" fill="none" stroke="#0000ff" stroke-width="2.0" stroke-linejoin="round"/>
<path d="M514.6,533.4L518.2,529.1L521.8,533.4L518.2,537.7Z" fill="none" stroke="#0000ff" stroke-width="2.0" stroke-linejoin="round"/>
<path d="M533.1,535.5L536.7,531.2L540.3,535.5L536.7,539.8Z" fill="none" stroke="#0000ff" stroke-width="2.0" stroke-linejoin="round"/>
<path d="M316.1,680.3 L334,534.5 L347.1,535.5 L364.5,532.9 L377.6,534.5 L395.1,532.3 L409.3,533.8 L426.5,532.9 L442.9,530.7 L457.1,531.6 L474.5,533.4 L487.6,534.5 L505.1,533.4 L518.2,533.4 L545,533.5" fill="none" stroke="#ff0000" stroke-width="1.8" stroke-dasharray="4.8,4.8" clip-path="url(#cf)"/>
<path d="M312.5,683.2L319.7,683.2L316.1,676.6Z" fill="none" stroke="#ff0000" stroke-width="2.0" stroke-linejoin="round"/>
<path d="M330.4,537.4L337.6,537.4L334,530.8Z" fill="none" stroke="#ff0000" stroke-width="2.0" stroke-linejoin="round"/>
<path d="M343.5,538.4L350.7,538.4L347.1,531.8Z" fill="none" stroke="#ff0000" stroke-width="2.0" stroke-linejoin="round"/>
<path d="M360.9,535.8L368.1,535.8L364.5,529.2Z" fill="none" stroke="#ff0000" stroke-width="2.0" stroke-linejoin="round"/>
<path d="M374,537.4L381.2,537.4L377.6,530.8Z" fill="none" stroke="#ff0000" stroke-width="2.0" stroke-linejoin="round"/>
<path d="M391.5,535.2L398.7,535.2L395.1,528.6Z" fill="none" stroke="#ff0000" stroke-width="2.0" stroke-linejoin="round"/>
<path d="M405.7,536.7L412.9,536.7L409.3,530.1Z" fill="none" stroke="#ff0000" stroke-width="2.0" stroke-linejoin="round"/>
<path d="M422.9,535.8L430.1,535.8L426.5,529.2Z" fill="none" stroke="#ff0000" stroke-width="2.0" stroke-linejoin="round"/>
<path d="M439.3,533.6L446.5,533.6L442.9,527Z" fill="none" stroke="#ff0000" stroke-width="2.0" stroke-linejoin="round"/>
<path d="M453.5,534.5L460.7,534.5L457.1,527.9Z" fill="none" stroke="#ff0000" stroke-width="2.0" stroke-linejoin="round"/>
<path d="M470.9,536.3L478.1,536.3L474.5,529.7Z" fill="none" stroke="#ff0000" stroke-width="2.0" stroke-linejoin="round"/>
<path d="M484,537.4L491.2,537.4L487.6,530.8Z" fill="none" stroke="#ff0000" stroke-width="2.0" stroke-linejoin="round"/>
<path d="M501.5,536.3L508.7,536.3L505.1,529.7Z" fill="none" stroke="#ff0000" stroke-width="2.0" stroke-linejoin="round"/>
<path d="M514.6,536.3L521.8,536.3L518.2,529.7Z" fill="none" stroke="#ff0000" stroke-width="2.0" stroke-linejoin="round"/>
<rect x="414.8" y="600.8" width="110.7" height="69.8" fill="#fff" stroke="#4a4a4a" stroke-width="1"/>
<path d="M417.4,610.8H448.4" stroke="#00ff00" stroke-width="1.8" stroke-dasharray="5,4.9"/>
<rect x="430.2" y="608.4" width="4.8" height="4.8" fill="none" stroke="#00ff00" stroke-width="2.0"/>
<text x="450.8" y="615" class="lg">OMP</text>
<path d="M417.4,628.4H448.4" stroke="#00ffff" stroke-width="1.8" stroke-dasharray="5,4.9"/>
<path d="M429,625.5L436.2,625.5L432.6,632.1Z" fill="none" stroke="#00ffff" stroke-width="2.0" stroke-linejoin="round"/>
<text x="450.8" y="634.1" class="lg">RASVRG<tspan font-size="9.2" dy="-4.9" dx="1.6">NSC</tspan></text>
<path d="M417.4,645.1H448.4" stroke="#0000ff" stroke-width="1.8" stroke-dasharray="5,4.9"/>
<path d="M429,645.1L432.6,640.8L436.2,645.1L432.6,649.4Z" fill="none" stroke="#0000ff" stroke-width="2.0" stroke-linejoin="round"/>
<text x="450.8" y="650.4" class="lg">Prox-SVRG</text>
<path d="M417.4,660.8H448.4" stroke="#ff0000" stroke-width="1.8" stroke-dasharray="5,4.9"/>
<path d="M429,663.7L436.2,663.7L432.6,657.1Z" fill="none" stroke="#ff0000" stroke-width="2.0" stroke-linejoin="round"/>
<text x="450.8" y="666.3" class="lg">DALM</text>
<text x="337.1" y="738.3" class="cp"><tspan font-weight="bold" font-size="14.2">(f)</tspan></text>
<text x="356.5" y="738.3" class="cp"><tspan font-style="italic">D</tspan></text>
<text x="381.1" y="738.3" class="cp">50,</text>
<text x="398.5" y="738.3" class="cp"><tspan font-style="italic">K</tspan></text>
<text x="422.7" y="738.3" class="cp">20,</text>
<text x="462.8" y="738.3" class="cp">1<tspan font-style="italic">e</tspan>6</text>
<text transform="translate(440.1,738.3) scale(1.3,1)" class="cp"><tspan font-style="italic">γ</tspan></text>
<path d="M368.8,734.5h9.0M368.8,736.8h9.0" stroke="#777" stroke-width="1"/>
<path d="M410.5,734.5h9.0M410.5,736.8h9.0" stroke="#777" stroke-width="1"/>
<path d="M450.6,734.5h9.0M450.6,736.8h9.0" stroke="#777" stroke-width="1"/></g>
</svg>
</body></html>
